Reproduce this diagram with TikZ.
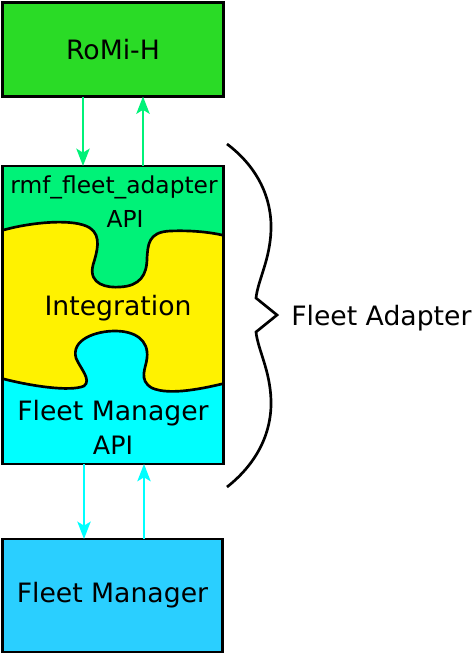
\documentclass[tikz,border=0pt]{standalone}
\usepackage{fontspec}
\setmainfont{DejaVu Sans}
\usetikzlibrary{arrows.meta, positioning, backgrounds}
\definecolor{romigreen}{RGB}{42,219,38}
\definecolor{apigreen}{RGB}{0,242,120}
\definecolor{apicyan}{RGB}{0,255,255}
\definecolor{fmblue}{RGB}{42,207,255}
\tikzstyle{block} = [rectangle, minimum width=165.75pt, text centered, draw=black, line width=2pt, outer sep=0pt, font=\fontsize{20}{24}\selectfont]
\tikzstyle{txt} = [inner sep=0pt, anchor=base, font=\fontsize{20}{24}\selectfont]
\tikzstyle{smalltxt} = [txt, font=\fontsize{17.5}{21}\selectfont]
\tikzstyle{link} = [line width=1.5pt, -{Stealth[length=13pt, width=10pt, inset=3pt]}]

\begin{document}
\begin{tikzpicture}[x=0.75pt, y=-0.75pt]
\useasboundingbox (0,0) rectangle (474,654);
\node (romi) [block, minimum height=70.5pt, fill=romigreen] at (113,49.5) {RoMi-H};
\node (adapter) [block, minimum height=223.5pt, below=52.1pt of romi] {};
\node (fm) [block, minimum width=165pt, minimum height=84.75pt, below=56.25pt of adapter, xshift=-0.4pt, fill=fmblue] {Fleet Manager};

% puzzle pieces
\begin{scope}[on background layer]
\clip (adapter.north west) rectangle (adapter.south east);
\fill[yellow] (adapter.north west) rectangle (adapter.south east);
\fill[apigreen] (0,231) .. controls (30,222) and (75,218) .. (90,228) .. controls (102,236) and (97,252) .. (93,265) .. controls (88,285) and (108,288) .. (120,287) .. controls (140,286) and (147,275) .. (147,258) .. controls (148,245) and (148,232) .. (170,231) .. controls (195,230) and (215,233) .. (226,236) -- (226,160) -- (0,160) -- cycle;
\fill[apicyan] (0,378) .. controls (30,386) and (70,392) .. (84,386) .. controls (92,380) and (80,368) .. (76,358) .. controls (71,340) and (95,331) .. (115,331) .. controls (135,331) and (149,340) .. (147,358) .. controls (146,368) and (138,380) .. (152,388) .. controls (170,396) and (205,388) .. (226,383) -- (226,470) -- (0,470) -- cycle;
\end{scope}
\begin{scope}
\clip (adapter.north west) rectangle (adapter.south east);
\draw[line width=2pt] (0,231) .. controls (30,222) and (75,218) .. (90,228) .. controls (102,236) and (97,252) .. (93,265) .. controls (88,285) and (108,288) .. (120,287) .. controls (140,286) and (147,275) .. (147,258) .. controls (148,245) and (148,232) .. (170,231) .. controls (195,230) and (215,233) .. (226,236);
\draw[line width=2pt] (0,378) .. controls (30,386) and (70,392) .. (84,386) .. controls (92,380) and (80,368) .. (76,358) .. controls (71,340) and (95,331) .. (115,331) .. controls (135,331) and (149,340) .. (147,358) .. controls (146,368) and (138,380) .. (152,388) .. controls (170,396) and (205,388) .. (226,383);
\end{scope}

\node (rmf) [smalltxt] at (114,193) {rmf\_fleet\_adapter};
\node (api1) [smalltxt] at (125,227) {API};
\node (integ) [txt] at (118,315) {Integration};
\node (fmapi) [txt] at (113,420) {Fleet Manager};
\node (api2) [txt, font=\fontsize{19}{23}\selectfont] at (113,454) {API};

\draw[link, apigreen] ([xshift=-22.5pt]romi.south) -- ([xshift=-22.5pt]adapter.north);
\draw[link, apigreen] ([xshift=22.5pt]adapter.north) -- ([xshift=22.5pt]romi.south);
\draw[link, apicyan] ([xshift=-21.75pt]adapter.south) -- ([xshift=-21.75pt]adapter.south |- fm.north);
\draw[link, apicyan] ([xshift=23.25pt]adapter.south |- fm.north) -- ([xshift=23.25pt]adapter.south);

% brace
\draw[line width=2pt] (227,144) .. controls (255,165) and (272,195) .. (271,230) .. controls (270,260) and (258,280) .. (256,298) -- (277,315) -- (256,332) .. controls (258,350) and (270,370) .. (271,400) .. controls (272,435) and (255,465) .. (227,487);
\node (fa) [txt, anchor=base west] at (291,325) {Fleet Adapter};
\end{tikzpicture}
\end{document}
